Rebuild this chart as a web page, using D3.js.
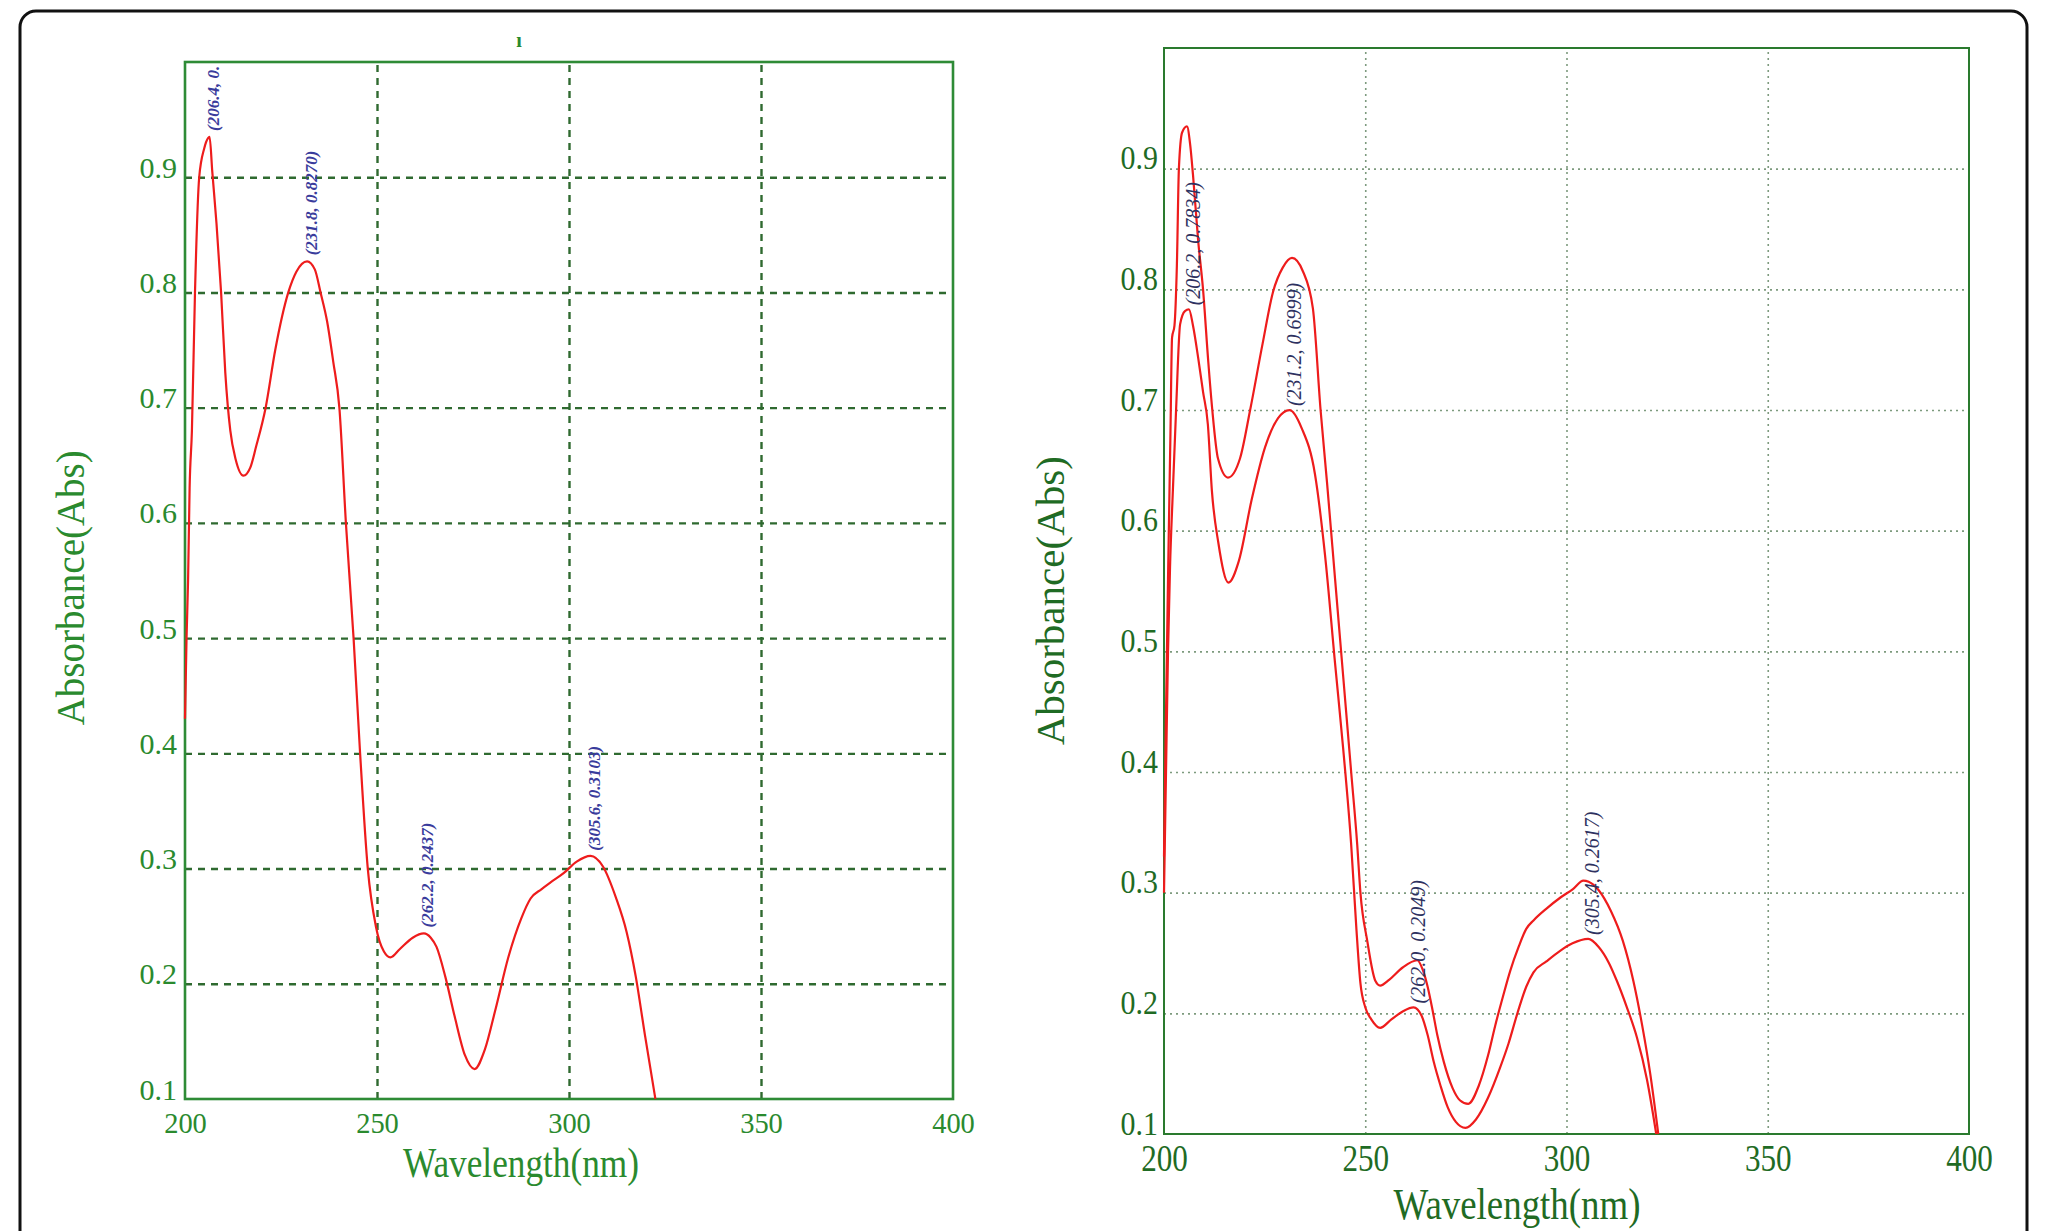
<!DOCTYPE html>
<html>
<head>
<meta charset="utf-8">
<script src="https://cdn.jsdelivr.net/npm/d3@7"></script>
<style>
  body { margin: 0; background: #fff; }
  svg { display: block; }
</style>
</head>
<body>
<div id="chart"></div>
<script>

var xTicks = [200, 250, 300, 350, 400];
var yTicks = [0.1, 0.2, 0.3, 0.4, 0.5, 0.6, 0.7, 0.8, 0.9];
var xGrid = [250, 300, 350];
var yGrid = [0.2, 0.3, 0.4, 0.5, 0.6, 0.7, 0.8, 0.9];

// left spectrum (single trace)
var leftWl = [200.0, 200.4, 200.8, 201.2, 201.8, 202.6, 203.7, 205.0, 206.0, 206.4, 207.1, 208.2, 209.4, 210.5, 211.8, 213.2, 215.2, 217.0, 218.5, 221.0, 223.5, 226.9, 229.0, 231.8, 233.8, 235.3, 237.0, 238.6, 240.2, 241.9, 243.9, 245.6, 247.6, 249.7, 251.8, 253.5, 255.9, 259.3, 262.2, 264.0, 265.5, 267.8, 270.2, 272.9, 275.4, 278.1, 280.8, 284.2, 287.6, 290.0, 292.8, 295.2, 298.6, 302.0, 305.6, 308.8, 312.2, 315.0, 317.4, 319.8, 322.5];
var leftAbs = [0.43, 0.50, 0.55, 0.63, 0.68, 0.80, 0.90, 0.925, 0.934, 0.935, 0.905, 0.86, 0.80, 0.73, 0.68, 0.655, 0.641, 0.648, 0.666, 0.70, 0.75, 0.80, 0.818, 0.827, 0.82, 0.80, 0.775, 0.74, 0.70, 0.60, 0.50, 0.40, 0.30, 0.25, 0.228, 0.223, 0.230, 0.240, 0.2437, 0.240, 0.232, 0.206, 0.172, 0.138, 0.126, 0.143, 0.177, 0.223, 0.257, 0.274, 0.282, 0.288, 0.296, 0.306, 0.311, 0.302, 0.275, 0.245, 0.206, 0.155, 0.10];

// right spectra (two traces)
var upperWl = [200.0, 200.5, 201.0, 201.6, 202.0, 202.6, 203.2, 203.7, 204.5, 205.7, 206.5, 207.2, 208.5, 209.7, 211.0, 212.0, 213.4, 215.9, 218.9, 221.4, 224.5, 227.1, 229.5, 231.8, 234.5, 237.0, 238.9, 240.5, 242.5, 244.5, 246.5, 248.0, 248.8, 250.5, 252.5, 253.7, 256.0, 259.3, 262.9, 264.3, 265.5, 266.7, 267.9, 269.5, 271.7, 273.5, 275.6, 278.2, 280.5, 282.3, 284.3, 286.0, 288.1, 290.0, 291.8, 295.1, 298.5, 301.6, 304.2, 305.5, 308.0, 311.0, 314.0, 316.6, 318.8, 320.8, 322.8];
var upperAbs = [0.33, 0.45, 0.56, 0.68, 0.76, 0.77, 0.82, 0.90, 0.93, 0.935, 0.92, 0.895, 0.84, 0.80, 0.74, 0.70, 0.66, 0.644, 0.66, 0.70, 0.755, 0.798, 0.818, 0.826, 0.815, 0.784, 0.70, 0.64, 0.56, 0.48, 0.40, 0.34, 0.30, 0.26, 0.227, 0.223, 0.228, 0.238, 0.244, 0.236, 0.222, 0.203, 0.182, 0.16, 0.138, 0.128, 0.125, 0.14, 0.165, 0.19, 0.215, 0.235, 0.255, 0.27, 0.277, 0.287, 0.296, 0.303, 0.31, 0.309, 0.302, 0.285, 0.26, 0.227, 0.19, 0.15, 0.10];
var lowerWl = [200.0, 200.5, 201.0, 201.5, 202.2, 203.0, 204.0, 205.2, 206.2, 207.2, 208.5, 209.7, 210.9, 211.9, 213.5, 216.0, 218.6, 221.8, 225.1, 228.3, 231.2, 234.2, 237.5, 240.0, 242.5, 244.5, 246.5, 247.8, 248.8, 250.0, 251.5, 253.7, 256.5, 259.5, 262.0, 264.0, 265.5, 267.0, 268.7, 270.5, 272.5, 274.9, 277.5, 280.5, 283.5, 285.6, 287.8, 290.0, 291.8, 295.0, 298.5, 301.5, 305.4, 308.0, 310.5, 312.5, 315.0, 317.5, 320.0, 322.3];
var lowerAbs = [0.30, 0.40, 0.50, 0.57, 0.633, 0.70, 0.771, 0.782, 0.7834, 0.77, 0.743, 0.715, 0.688, 0.633, 0.59, 0.557, 0.575, 0.626, 0.669, 0.693, 0.6999, 0.685, 0.647, 0.58, 0.49, 0.42, 0.34, 0.27, 0.225, 0.205, 0.195, 0.188, 0.195, 0.202, 0.2049, 0.198, 0.182, 0.16, 0.14, 0.122, 0.11, 0.105, 0.112, 0.13, 0.155, 0.175, 0.20, 0.222, 0.234, 0.243, 0.252, 0.258, 0.2617, 0.255, 0.242, 0.227, 0.205, 0.18, 0.145, 0.10];

// peak annotations
var leftPeakWl = [206.4, 231.8, 262.2, 305.6];
var leftPeakAbs = [0.935, 0.8270, 0.2437, 0.3103];
var leftPeakText = ["(206.4, 0.", "(231.8, 0.8270)", "(262.2, 0.2437)", "(305.6, 0.3103)"];
var rightPeakWl = [206.2, 231.2, 262.0, 305.4];
var rightPeakAbs = [0.7834, 0.6999, 0.2049, 0.2617];
var rightPeakText = ["(206.2, 0.7834)", "(231.2, 0.6999)", "(262.0, 0.2049)", "(305.4, 0.2617)"];

var width = 2056, height = 1231;
var serif = '"Liberation Serif", "Times New Roman", serif';

var svg = d3.select("#chart").append("svg")
    .attr("width", width)
    .attr("height", height)
    .style("font-family", serif);

// outer rounded border (bottom edge runs off the picture)
svg.append("rect")
    .attr("x", 20).attr("y", 11)
    .attr("width", 2007).attr("height", 1320)
    .attr("rx", 16)
    .attr("fill", "none")
    .attr("stroke", "#111")
    .attr("stroke-width", 3);

function zip(a, b) {
  return a.map(function(d, i) { return { wl: d, abs: b[i] }; });
}

function peaks(wl, abs, txt) {
  return wl.map(function(d, i) { return { wl: d, abs: abs[i], text: txt[i] }; });
}

function drawPanel(p) {
  var x = d3.scaleLinear().domain([200, 400]).range([p.left, p.right]);
  var y = d3.scaleLinear().domain([0.1, 1.0]).range([p.bottom, p.top]);
  var g = svg.append("g");

  // grid lines via axes
  var gy = g.append("g")
      .attr("transform", "translate(" + p.left + ",0)")
      .call(d3.axisLeft(y).tickValues(yGrid).tickSize(-(p.right - p.left)).tickFormat(""));
  var gx = g.append("g")
      .attr("transform", "translate(0," + p.bottom + ")")
      .call(d3.axisBottom(x).tickValues(xGrid).tickSize(-(p.bottom - p.top)).tickFormat(""));
  [gx, gy].forEach(function(a) {
    a.select(".domain").remove();
    a.selectAll(".tick text").remove();
    a.selectAll(".tick line")
      .attr("stroke", p.gridColor)
      .attr("stroke-width", p.gridWidth)
      .attr("stroke-dasharray", p.gridDash);
  });

  // frame
  g.append("rect")
      .attr("x", x(200)).attr("y", y(1.0))
      .attr("width", x(400) - x(200))
      .attr("height", y(0.1) - y(1.0))
      .attr("fill", "none")
      .attr("stroke", p.frameColor)
      .attr("stroke-width", p.frameWidth);

  // tick labels
  var ax = g.append("g")
      .attr("transform", "translate(0," + p.bottom + ")")
      .call(d3.axisBottom(x).tickValues(xTicks).tickSize(0).tickFormat(d3.format("d")));
  ax.select(".domain").remove();
  ax.attr("font-family", serif);
  ax.selectAll(".tick text")
      .attr("y", p.xLabelY).attr("dy", null)
      .attr("fill", p.tickColor)
      .style("font-size", p.xTickSize + "px")
      .attr("transform", "scale(" + p.xTickSx + ",1)");

  var ay = g.append("g")
      .attr("transform", "translate(" + p.left + ",0)")
      .call(d3.axisLeft(y).tickValues(yTicks).tickSize(0).tickFormat(d3.format(".1f")));
  ay.select(".domain").remove();
  ay.attr("font-family", serif);
  ay.selectAll(".tick text")
      .attr("x", -p.yLabelPad).attr("dy", null)
      .attr("fill", p.tickColor)
      .style("font-size", p.yTickSize + "px")
      .attr("transform", "translate(" + (-p.yLabelPad) + ",0) scale(" + p.yTickSx + ",1) translate(" + p.yLabelPad + ",0)");

  // axis titles
  g.append("text")
      .attr("transform", "translate(" + (p.left + (p.right - p.left) * p.xTitleAt) + "," + (p.bottom + p.xTitleY) + ") scale(" + p.xTitleSx + ",1)")
      .attr("text-anchor", "middle")
      .attr("fill", p.tickColor)
      .style("font-size", p.xTitleSize + "px")
      .text("Wavelength(nm)");
  g.append("text")
      .attr("transform", "translate(" + (p.left - p.yTitleX) + "," + (p.top + (p.bottom - p.top) * p.yTitleAt) + ") rotate(-90)")
      .attr("text-anchor", "middle")
      .attr("fill", p.tickColor)
      .style("font-size", p.yTitleSize + "px")
      .text("Absorbance(Abs)");

  // spectra
  var line = d3.line()
      .x(function(d) { return x(d.wl); })
      .y(function(d) { return y(d.abs); })
      .curve(d3.curveMonotoneX);
  p.series.forEach(function(s) {
    g.append("path")
        .datum(s)
        .attr("d", line)
        .attr("fill", "none")
        .attr("stroke", "#ee1c1c")
        .attr("stroke-width", 2.2)
        .attr("stroke-linejoin", "round");
  });

  // peak labels, rotated, reading upward
  g.selectAll(".peak")
      .data(p.peaks)
      .enter().append("text")
      .attr("class", "peak")
      .attr("transform", function(d) {
        return "translate(" + (x(d.wl) + p.peakDx) + "," + (y(d.abs) - p.peakGap) + ") rotate(-90)";
      })
      .attr("fill", p.peakColor)
      .style("font-size", p.peakSize + "px")
      .style("font-style", "italic")
      .style("font-weight", p.peakWeight)
      .text(function(d) { return d.text; });
}

drawPanel({
  left: 185, right: 953, top: 62, bottom: 1099,
  gridColor: "#2f6a30", gridWidth: 2.4, gridDash: "7,6",
  frameColor: "#2e8b36", frameWidth: 2.6,
  tickColor: "#2a8a2e",
  xTickSize: 30, xTickSx: 0.95, xLabelY: 34,
  yTickSize: 30, yTickSx: 1, yLabelPad: 8,
  xTitleAt: 0.4375, xTitleY: 78, xTitleSize: 42, xTitleSx: 0.84,
  yTitleX: 101, yTitleAt: 0.507, yTitleSize: 39,
  series: [zip(leftWl, leftAbs)],
  peaks: peaks(leftPeakWl, leftPeakAbs, leftPeakText),
  peakDx: 9.5, peakGap: 6, peakColor: "#3a3c9c", peakSize: 17, peakWeight: "bold"
});

drawPanel({
  left: 1164, right: 1969, top: 48, bottom: 1134,
  gridColor: "#7d9a7e", gridWidth: 1.6, gridDash: "2,4",
  frameColor: "#2a7a2e", frameWidth: 2,
  tickColor: "#1f6b24",
  xTickSize: 38, xTickSx: 0.82, xLabelY: 37,
  yTickSize: 34, yTickSx: 0.88, yLabelPad: 6,
  xTitleAt: 0.4385, xTitleY: 85, xTitleSize: 45, xTitleSx: 0.82,
  yTitleX: 100, yTitleAt: 0.509, yTitleSize: 41,
  series: [zip(upperWl, upperAbs), zip(lowerWl, lowerAbs)],
  peaks: peaks(rightPeakWl, rightPeakAbs, rightPeakText),
  peakDx: 11, peakGap: 4, peakColor: "#2e3160", peakSize: 20, peakWeight: "normal"
});

// stray clipped title mark above the left plot
svg.append("text")
    .attr("x", 519).attr("y", 47)
    .attr("text-anchor", "middle")
    .attr("fill", "#2a8a2e")
    .style("font-size", "20px")
    .style("font-weight", "bold")
    .text("ı");

</script>
</body>
</html>
